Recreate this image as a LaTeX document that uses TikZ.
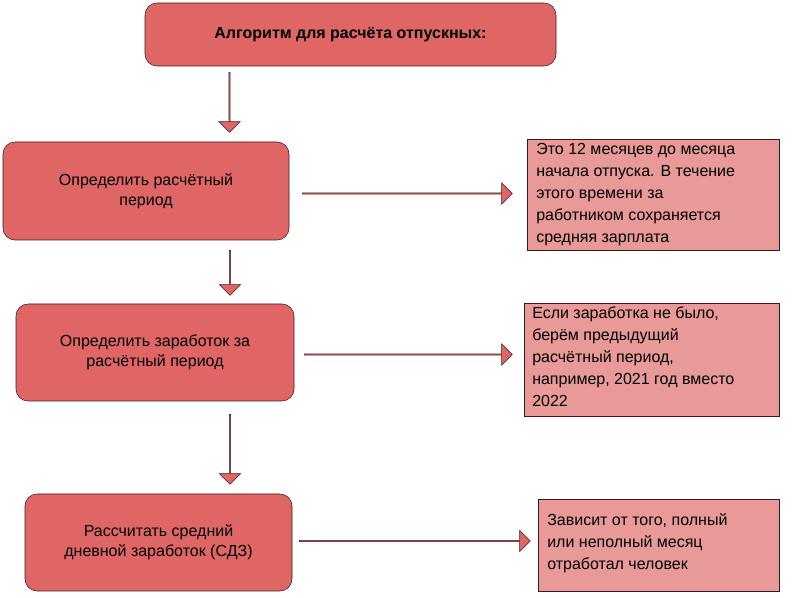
\documentclass[tikz,border=0pt]{standalone}
\usepackage{fontspec}
\setmainfont{Liberation Sans}
\usetikzlibrary{shapes.arrows, positioning}
\definecolor{boxred}{HTML}{E06666}
\definecolor{notered}{HTML}{EA9999}
\definecolor{edgedark}{HTML}{3A1A1A}
\tikzset{
  stepbox/.style={draw=edgedark, fill=boxred, rounded corners=9pt, align=center, font=\fontsize{12}{15}\selectfont},
  notebox/.style={draw=edgedark, fill=notered, anchor=north west, inner sep=0pt},
  notetext/.style={anchor=north west, align=left, inner sep=0pt, font=\fontsize{12}{16.5}\selectfont},
  blockarrow/.style={single arrow, draw=edgedark, fill=boxred, inner sep=0pt, minimum width=16pt, single arrow head extend=3pt, single arrow head indent=0pt},
}
\begin{document}
\begin{tikzpicture}[x=0.75pt, y=-0.75pt]
\useasboundingbox (0,0) rectangle (797,598);

% boxes of the algorithm
\node [stepbox, minimum width=411*0.75pt, minimum height=63*0.75pt, font=\fontsize{12}{15}\selectfont\bfseries] (title) at (350.5, 34.5) {Алгоритм для расчёта отпускных:};
\node [stepbox, minimum width=286*0.75pt, minimum height=98*0.75pt] (period) at (146, 191) {Определить расчётный\\период};
\node [stepbox, minimum width=278*0.75pt, minimum height=97*0.75pt] (earn) at (155, 352.5) {Определить заработок за\\расчётный период};
\node [stepbox, minimum width=267*0.75pt, minimum height=97*0.75pt] (daily) at (158.5, 542.5) {Рассчитать средний\\дневной заработок (СДЗ)};

% notes
\node [notebox, minimum width=252*0.75pt, minimum height=111*0.75pt] (note1) at (527, 139) {};
\node [notetext] at (536, 143) {Это 12 месяцев до месяца\\начала отпуска. В течение\\этого времени за\\работником сохраняется\\средняя зарплата};
\node [notebox, minimum width=255*0.75pt, minimum height=113*0.75pt] (note2) at (524, 303) {};
\node [notetext] at (532, 307) {Если заработка не было,\\берём предыдущий\\расчётный период,\\например, 2021 год вместо\\2022};
\node [notebox, minimum width=241*0.75pt, minimum height=92*0.75pt] (note3) at (538, 499) {};
\node [notetext] at (547, 513) {Зависит от того, полный\\или неполный месяц\\отработал человек};

% block arrows
\node [blockarrow, rotate=-90, minimum height=60*0.75pt] (down1) at (229.5, 102) {};
\node [blockarrow, rotate=-90, minimum height=45*0.75pt] (down2) at (230, 272.5) {};
\node [blockarrow, rotate=-90, minimum height=70*0.75pt] (down3) at (230, 449) {};
\node [blockarrow, minimum height=210*0.75pt] (right1) at (407, 193.5) {};
\node [blockarrow, minimum height=208*0.75pt] (right2) at (408, 354.5) {};
\node [blockarrow, minimum height=231*0.75pt] (right3) at (414.5, 541) {};

\end{tikzpicture}
\end{document}
